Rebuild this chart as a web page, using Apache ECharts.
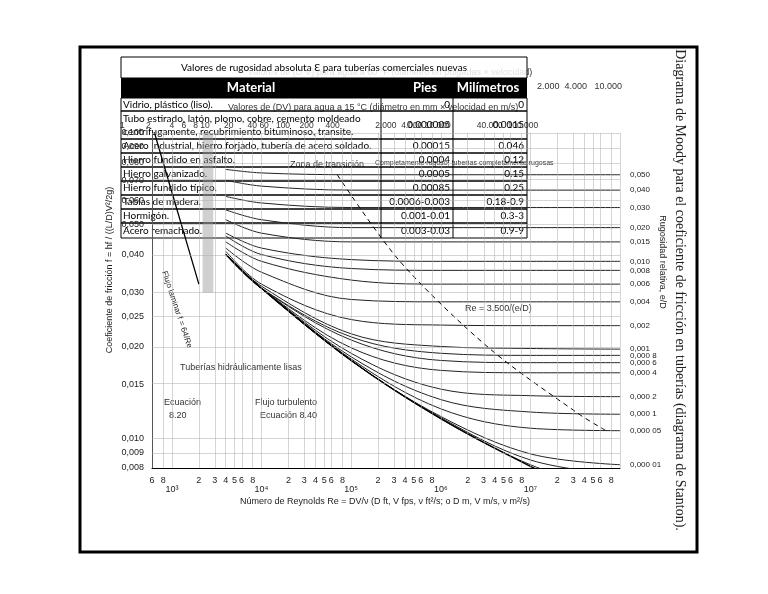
<!DOCTYPE html>
<html><head><meta charset="utf-8">
<script src="https://cdn.jsdelivr.net/npm/echarts@6/dist/echarts.min.js"></script>
<style>html,body{margin:0;padding:0;background:#fff}#c{width:768px;height:594px}</style>
</head><body><div id="c"></div>
<script>
// ---- data ----
const reynolds = [4000, 10000, 100000, 1000000, 10000000, 100000000];
const roughness = ['0,050','0,040','0,030','0,020','0,015','0,010','0,008','0,006','0,004','0,002','0,001','0,000 8','0,000 6','0,000 4','0,000 2','0,000 1','0,000 05','0,000 01','',''];
const frictionCurves = [
 [0.076,0.074,0.073,0.073,0.073,0.073],
 [0.070,0.067,0.065,0.065,0.065,0.065],
 [0.062,0.059,0.057,0.057,0.057,0.057],
 [0.056,0.052,0.049,0.049,0.049,0.049],
 [0.052,0.047,0.044,0.044,0.044,0.044],
 [0.047,0.042,0.0385,0.038,0.038,0.038],
 [0.046,0.040,0.036,0.0355,0.0355,0.0355],
 [0.044,0.038,0.033,0.032,0.032,0.032],
 [0.042,0.035,0.0285,0.028,0.028,0.028],
 [0.041,0.032,0.0245,0.0235,0.0234,0.0234],
 [0.040,0.0315,0.022,0.020,0.0197,0.0196],
 [0.040,0.031,0.0215,0.019,0.0187,0.0187],
 [0.040,0.031,0.021,0.018,0.0177,0.0177],
 [0.040,0.031,0.0198,0.0167,0.0164,0.0164],
 [0.040,0.031,0.0190,0.0145,0.0138,0.0137],
 [0.040,0.031,0.0185,0.0134,0.0122,0.0120],
 [0.040,0.031,0.0182,0.0125,0.0108,0.0106],
 [0.040,0.031,0.0180,0.0118,0.0089,0.0082],
 [0.040,0.031,0.0180,0.0117,0.0085,0.0076],
 [0.040,0.031,0.0180,0.0116,0.0082,0.0066]
];
const smoothPipe = [0.040,0.031,0.018,0.0116,0.0081,0.0059];
const laminarRe = [600, 1000, 1500, 2000];
const laminarF = [0.1067, 0.064, 0.0427, 0.032];
const boundaryRe = [70000, 350000, 3500000, 35000000, 70000000];
const boundaryF = [0.073, 0.038, 0.0197, 0.012, 0.0106];
const yTicks = [0.008,0.009,0.010,0.015,0.020,0.025,0.030,0.040,0.050,0.060,0.070,0.080,0.090,0.100];
const xTicks = [600,800,1000,2000,3000,4000,5000,6000,8000,10000,20000,30000,40000,50000,60000,80000,100000,200000,300000,400000,500000,600000,800000,1000000,2000000,3000000,4000000,5000000,6000000,8000000,10000000,20000000,30000000,40000000,50000000,60000000,80000000,100000000];
const tableTitle = 'Valores de rugosidad absoluta \u0190 para tuberías comerciales nuevas';
const tableHeader = ['Material','Pies','Milímetros'];
const tableRows = [
 ['Vidrio, plástico (liso).','0','0'],
 ['Tubo estirado, latón, plomo, cobre, cemento moldeado\ncentrifugamente, recubrimiento bituminoso, transite.','0.000005','0.0015'],
 ['Acero industrial, hierro forjado, tubería de acero soldado.','0.00015','0.046'],
 ['Hierro fundido en asfalto.','0.0004','0.12'],
 ['Hierro galvanizado.','0.0005','0.15'],
 ['Hierro fundido típico.','0.00085','0.25'],
 ['Tablas de madera.','0.0006-0.003','0.18-0.9'],
 ['Hormigón.','0.001-0.01','0.3-3'],
 ['Acero remachado.','0.003-0.03','0.9-9']
];
// ---- chart ----
const L = Math.log10;
const chart = echarts.init(document.getElementById('c'));
const series = [];
frictionCurves.forEach((arr,i)=>{
  series.push({type:'line',data:reynolds.map((r,j)=>[L(r),L(arr[j])]),smooth:0.35,symbol:'none',
    lineStyle:{color:'#222',width:1},
    endLabel:{show:!!roughness[i],formatter:roughness[i],fontSize:8,color:'#222',offset:[2,0],fontFamily:'Liberation Sans'}});
});
series.push({type:'line',data:reynolds.map((r,j)=>[L(r),L(smoothPipe[j])]),smooth:0.35,symbol:'none',lineStyle:{color:'#000',width:1.4}});
series.push({type:'line',data:laminarRe.map((r,j)=>[L(r),L(laminarF[j])]),symbol:'none',lineStyle:{color:'#000',width:1.3},
  markArea:{silent:true,itemStyle:{color:'rgba(150,150,150,0.45)'},data:[[{xAxis:L(2200),yAxis:L(0.03)},{xAxis:L(2900),yAxis:L(0.1)}]]}});
series.push({type:'line',data:boundaryRe.map((r,j)=>[L(r),L(boundaryF[j])]),smooth:0.3,symbol:'none',lineStyle:{color:'#000',width:1,type:[5,4]}});
series.push({type:'line',data:[],silent:true,markLine:{silent:true,symbol:'none',label:{show:false},
  lineStyle:{color:'#aaa',width:0.5,type:'solid'},
  data:xTicks.map(v=>({xAxis:L(v)})).concat(yTicks.map(v=>({yAxis:L(v)})))}});
const sup={'3':'³','4':'⁴','5':'⁵','6':'⁶','7':'⁷','8':'⁸'};
chart.setOption({
  animation:false,
  grid:{left:152,right:148,top:133,bottom:126},
  xAxis:{type:'value',min:L(600),max:L(1e8),splitLine:{show:false},axisTick:{show:false},
    axisLine:{lineStyle:{color:'#000'}},
    axisLabel:{customValues:xTicks.filter(v=>!/^[79]/.test(String(v))).map(L),fontSize:9,color:'#222',fontFamily:'Liberation Sans',
      formatter:v=>{const r=Math.pow(10,v);const e=Math.round(Math.log10(r));const m=Math.round(r/Math.pow(10,Math.floor(v+1e-9)));
        if(Math.abs(r-Math.pow(10,e))/r<1e-6) return '\n10'+(sup[e]||e); return String(m);}}},
  yAxis:{type:'value',min:L(0.008),max:L(0.1),splitLine:{show:false},axisTick:{show:false},
    axisLine:{lineStyle:{color:'#000'}},
    axisLabel:{customValues:yTicks.map(L),fontSize:9,color:'#222',fontFamily:'Liberation Sans',
      formatter:v=>Math.pow(10,v).toFixed(3).replace('.',',')}},
  series:series,
  graphic:(function(){
    const g=[];
    g.push({type:'rect',shape:{x:80,y:47,width:617,height:505},style:{fill:'none',stroke:'#000',lineWidth:3}});
    g.push({type:'text',x:680,y:290,rotation:-Math.PI/2,style:{text:'Diagrama de Moody para el coeficiente de fricción en tuberías (diagrama de Stanton).',font:'14px "Liberation Serif"',fill:'#222',align:'center',verticalAlign:'middle'}});
    g.push({type:'text',x:662,y:262,rotation:-Math.PI/2,style:{text:'Rugosidad relativa, e/D',font:'9px "Liberation Sans"',fill:'#222',align:'center',verticalAlign:'middle'}});
    g.push({type:'text',x:110,y:270,rotation:Math.PI/2,style:{text:'Coeficiente de fricción f = hf / ((L/D)V²/2g)',font:'9px "Liberation Sans"',fill:'#222',align:'center',verticalAlign:'middle'}});
    g.push({type:'text',x:385,y:497,style:{text:'Número de Reynolds Re = DV/ν (D ft, V fps, ν ft²/s; o D m, V m/s, ν m²/s)',font:'9px "Liberation Sans"',fill:'#222',align:'center'}});
    g.push({type:'text',x:390,y:68,style:{text:'Valores de (D\u02D9V) para agua a 60 °F (diámetro en pulgadas × velocidad)',font:'9px "Liberation Sans"',fill:'#333',align:'center'}});
    g.push({type:'text',x:537,y:82,style:{text:'2.000  4.000   10.000',font:'9px "Liberation Sans"',fill:'#333'}});
    g.push({type:'text',x:228,y:103,style:{text:'Valores de (DV) para agua a 15 °C (diámetro en mm × velocidad en m/s)',font:'9px "Liberation Sans"',fill:'#333'}});
    g.push({type:'text',x:120,y:121,style:{text:'1         2        4   6   8 10      20      40 60   100    200     400               2.000  4.000 10.000           40.000  100.000',font:'8.5px "Liberation Sans"',fill:'#333'}});
    g.push({type:'text',x:290,y:160,style:{text:'Zona de transición',font:'9px "Liberation Sans"',fill:'#333'}});
    g.push({type:'text',x:375,y:160,style:{text:'Completamente rugoso, tuberías completamente rugosas',font:'7px "Liberation Sans"',fill:'#333'}});
    g.push({type:'text',x:465,y:304,style:{text:'Re = 3.500/(e/D)',font:'9px "Liberation Sans"',fill:'#333'}});
    g.push({type:'text',x:180,y:363,style:{text:'Tuberías hidráulicamente lisas',font:'9px "Liberation Sans"',fill:'#333'}});
    g.push({type:'text',x:164,y:396,style:{text:'Ecuación\n  8.20',font:'9px "Liberation Sans"',fill:'#333',lineHeight:13}});
    g.push({type:'text',x:255,y:396,style:{text:'Flujo turbulento\n  Ecuación 8.40',font:'9px "Liberation Sans"',fill:'#333',lineHeight:13}});
    g.push({type:'text',x:168,y:270,rotation:-1.25,style:{text:'Flujo laminar f = 64/Re',font:'8px "Liberation Sans"',fill:'#222'}});
    // table
    const tx=121,tw=406,c1=381,c2=453;
    const rowY=[98,111,139,153,167,181,195,209,223,238];
    g.push({type:'rect',shape:{x:tx,y:57,width:tw,height:21},style:{fill:'rgba(255,255,255,0.85)',stroke:'#000',lineWidth:1}});
    g.push({type:'text',x:tx+tw/2,y:68,style:{text:tableTitle,font:'10px Lato',fill:'#000',align:'center',verticalAlign:'middle'}});
    g.push({type:'rect',shape:{x:tx,y:78,width:tw,height:20},style:{fill:'#000'}});
    g.push({type:'text',x:251,y:88,style:{text:tableHeader[0],font:'bold 13px Lato',fill:'#fff',align:'center',verticalAlign:'middle'}});
    g.push({type:'text',x:425,y:88,style:{text:tableHeader[1],font:'bold 13px Lato',fill:'#fff',align:'center',verticalAlign:'middle'}});
    g.push({type:'text',x:488,y:88,style:{text:tableHeader[2],font:'bold 13px Lato',fill:'#fff',align:'center',verticalAlign:'middle'}});
    tableRows.forEach((r,i)=>{
      const y0=rowY[i],y1=rowY[i+1],ym=(y0+y1)/2;
      g.push({type:'rect',shape:{x:tx,y:y0,width:tw,height:y1-y0},style:{fill:'none',stroke:'#000',lineWidth:1}});
      g.push({type:'text',x:tx+2,y:ym,style:{text:r[0],font:'10px Lato',fill:'#000',verticalAlign:'middle',lineHeight:13}});
      g.push({type:'text',x:c2-3,y:ym,style:{text:r[1],font:'10px Lato',fill:'#000',align:'right',verticalAlign:'middle'}});
      g.push({type:'text',x:tx+tw-3,y:ym,style:{text:r[2],font:'10px Lato',fill:'#000',align:'right',verticalAlign:'middle'}});
    });
    g.push({type:'line',shape:{x1:c1,y1:98,x2:c1,y2:238},style:{stroke:'#000',lineWidth:1}});
    g.push({type:'line',shape:{x1:c2,y1:98,x2:c2,y2:238},style:{stroke:'#000',lineWidth:1}});
    return g;
  })()
});
</script></body></html>
